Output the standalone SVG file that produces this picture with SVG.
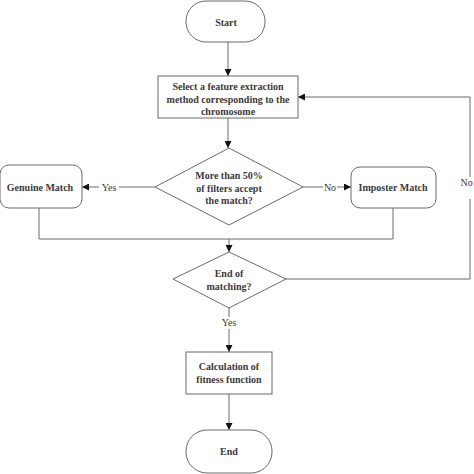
<svg xmlns="http://www.w3.org/2000/svg" width="474" height="474" viewBox="0 0 474 474">
  <style>
    .shape { fill: #ffffff; stroke: #6a6a6a; stroke-width: 1; }
    .line { fill: none; stroke: #6a6a6a; stroke-width: 1; }
    .label { font-family: "Liberation Serif", "Times New Roman", serif; font-weight: bold; font-size: 10px; fill: #3a3a3a; text-anchor: middle; }
    .edge-label { font-family: "Liberation Serif", "Times New Roman", serif; font-size: 10px; fill: #3a3a3a; text-anchor: middle; }
  </style>
  <defs>
    <marker id="arrow" viewBox="0 0 10 10" refX="10" refY="5" markerWidth="7" markerHeight="7" orient="auto" markerUnits="userSpaceOnUse">
      <path d="M0,0 L10,5 L0,10 z" fill="#111111"/>
    </marker>
  </defs>
  <rect width="474" height="474" fill="#ffffff"/>

  <g id="connectors">
    <!-- Start to selection box -->
    <line class="line" x1="228" y1="42" x2="228" y2="76" marker-end="url(#arrow)"/>
    <!-- selection box to decision -->
    <line class="line" x1="228" y1="118" x2="228" y2="148" marker-end="url(#arrow)"/>
    <!-- Yes branch to Genuine Match -->
    <line class="line" x1="155" y1="187" x2="82" y2="187" marker-end="url(#arrow)"/>
    <!-- No branch to Imposter Match -->
    <line class="line" x1="303" y1="187" x2="351" y2="187" marker-end="url(#arrow)"/>
    <!-- both outcomes merge into the second decision -->
    <polyline class="line" points="39,208 39,239 393,239 393,208"/>
    <line class="line" x1="229" y1="239" x2="229" y2="252" marker-end="url(#arrow)"/>
    <!-- loop back when matching is not finished -->
    <polyline class="line" points="286,279 470,279 470,97 298,97" marker-end="url(#arrow)"/>
    <!-- Yes to fitness calculation -->
    <line class="line" x1="229" y1="308" x2="229" y2="352" marker-end="url(#arrow)"/>
    <!-- fitness calculation to End -->
    <line class="line" x1="229" y1="394" x2="229" y2="430" marker-end="url(#arrow)"/>

    <!-- edge labels with white backing -->
    <rect x="99" y="181" width="20" height="12" fill="#ffffff"/>
    <text class="edge-label" x="109" y="190.5">Yes</text>
    <rect x="323" y="181" width="14" height="12" fill="#ffffff"/>
    <text class="edge-label" x="330" y="190.5">No</text>
    <rect x="460" y="177" width="14" height="22" fill="#ffffff"/>
    <text class="edge-label" x="460.5" y="186" style="text-anchor:start">No</text>
    <rect x="220" y="317" width="18" height="12" fill="#ffffff"/>
    <text class="edge-label" x="229" y="326">Yes</text>
  </g>

  <g id="start">
    <rect class="shape" x="186" y="1" width="79" height="41" rx="20" ry="20"/>
    <text class="label" x="226" y="25.5">Start</text>
  </g>

  <g id="select-method">
    <rect class="shape" x="158" y="76" width="140" height="42"/>
    <text class="label" x="228" y="89.5">Select a feature extraction</text>
    <text class="label" x="228" y="102.5">method corresponding to the</text>
    <text class="label" x="228" y="115">chromosome</text>
  </g>

  <g id="filter-decision">
    <polygon class="shape" points="229,148 303,187 229,225 155,187"/>
    <text class="label" x="229" y="178.5">More than 50%</text>
    <text class="label" x="229" y="191.5">of filters accept</text>
    <text class="label" x="229" y="204">the match?</text>
  </g>

  <g id="genuine-match">
    <rect class="shape" x="0" y="165" width="82" height="43" rx="9" ry="9"/>
    <text class="label" x="40" y="190.5">Genuine Match</text>
  </g>

  <g id="imposter-match">
    <rect class="shape" x="351" y="167" width="85" height="41" rx="9" ry="9"/>
    <text class="label" x="393" y="190.5">Imposter Match</text>
  </g>

  <g id="end-decision">
    <polygon class="shape" points="229,252 286,279 229,308 173,279"/>
    <text class="label" x="229" y="277">End of</text>
    <text class="label" x="229" y="290">matching?</text>
  </g>

  <g id="fitness">
    <rect class="shape" x="186" y="352" width="86" height="42"/>
    <text class="label" x="229" y="370">Calculation of</text>
    <text class="label" x="229" y="383">fitness function</text>
  </g>

  <g id="end">
    <rect class="shape" x="186" y="430" width="86" height="43" rx="21" ry="21"/>
    <text class="label" x="229" y="455">End</text>
  </g>
</svg>
